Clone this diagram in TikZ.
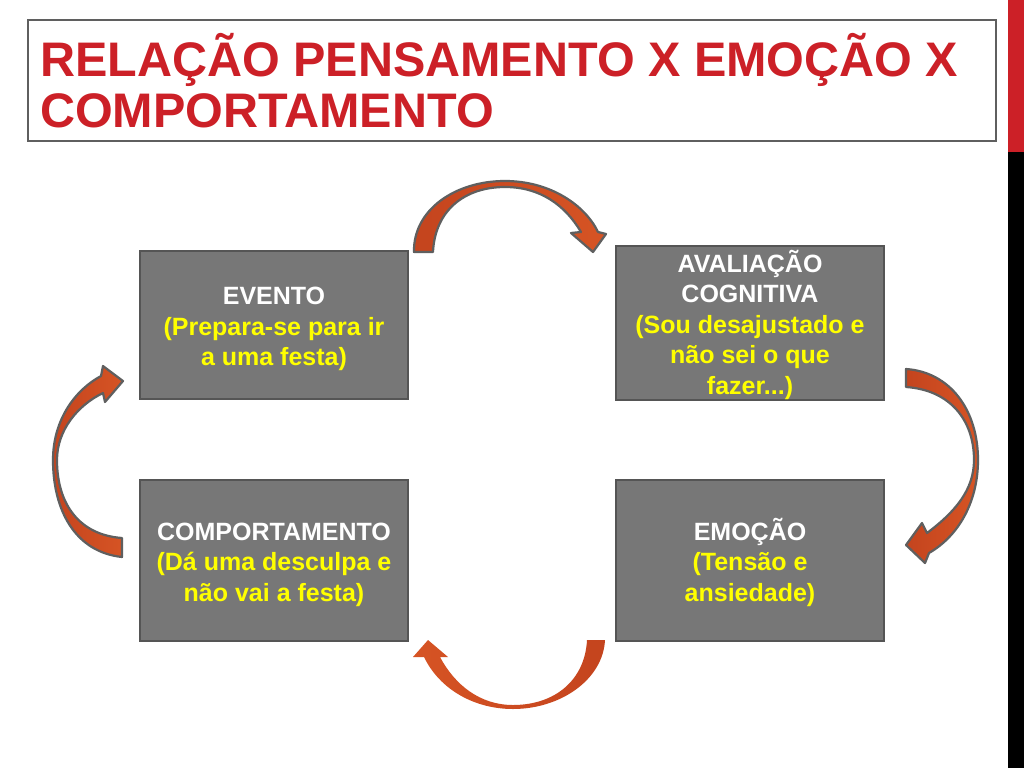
\documentclass[tikz,border=0pt]{standalone}
\usepackage{fontspec}
\setmainfont{Liberation Sans}
\usepackage{tikz}
\usetikzlibrary{calc}
\definecolor{TitleRed}{RGB}{204,32,39}
\definecolor{BoxGray}{RGB}{119,119,119}
\definecolor{BoxLine}{RGB}{85,85,85}
\definecolor{ArrowOrange}{RGB}{214,84,36}
\definecolor{ArrowDark}{RGB}{196,68,30}
\definecolor{ArrowLine}{RGB}{95,95,95}
\definecolor{TextYellow}{RGB}{255,255,0}
\tikzset{
  caixa/.style={rectangle,draw=BoxLine,fill=BoxGray,line width=2pt,
    minimum width=268pt,align=center,text=TextYellow,inner sep=0pt,
    font=\bfseries\fontsize{25}{30.5}\selectfont},
  seta/.style={left color=ArrowDark,right color=ArrowOrange,draw=ArrowLine,
    line width=2.2pt,line join=round},
  setasem/.style={left color=ArrowOrange,right color=ArrowDark},
  titulo/.style={anchor=base west,text=TitleRed,inner sep=0pt,
    font=\bfseries\fontsize{48.5}{51}\selectfont},
}
\newcommand{\cab}[1]{\textcolor{white}{\rule{0pt}{26pt}#1}}

\begin{document}
\begin{tikzpicture}[x=1pt,y=-1pt]
\useasboundingbox (0,0) rectangle (1024,768);
\fill[white] (0,0) rectangle (1024,768);
% faixa lateral
\fill[TitleRed] (1008,0) rectangle (1024,152);
\fill[black] (1008,152) rectangle (1024,768);
% titulo
\draw[ArrowLine,line width=1.2pt] (28,20) rectangle (996,141);
\node[titulo] (titulo1) at (40,76) {RELAÇÃO PENSAMENTO X EMOÇÃO X};
\node[titulo] (titulo2) at (40,127) {COMPORTAMENTO};
% caixas
\node[caixa,minimum height=148pt] (evento) at (274,325)
  {\cab{EVENTO}\\(Prepara-se para ir\\a uma festa)};
\node[caixa,minimum height=154pt] (avaliacao) at (750,323)
  {\cab{AVALIAÇÃO}\\\textcolor{white}{COGNITIVA}\\(Sou desajustado e\\não sei o que\\fazer...)};
\node[caixa,minimum height=161pt] (comportamento) at (274,560.5)
  {\cab{COMPORTAMENTO}\\(Dá uma desculpa e\\não vai a festa)};
\node[caixa,minimum height=161pt] (emocao) at (750,560.5)
  {\cab{EMOÇÃO}\\(Tensão e\\ansiedade)};
% setas curvas
\path[seta] (414,252) .. controls (413,210) and (455,181) .. (505,181)
  .. controls (550,181) and (585,205) .. (598,232) -- (606,234) -- (593,252)
  -- (571,233) -- (581,232) .. controls (565,205) and (540,187) .. (505,187)
  .. controls (465,187) and (435,210) .. (433,252) -- cycle;
\path[seta] (906,369) .. controls (950,372) and (978,410) .. (978,460)
  .. controls (978,500) and (960,535) .. (929,553) -- (925,563) -- (906,545)
  -- (922,523) -- (927,533) .. controls (955,512) and (974,490) .. (974,460)
  .. controls (974,420) and (950,390) .. (906,387) -- cycle;
\path[setasem] (605,640) .. controls (603,680) and (560,709) .. (513,709)
  .. controls (475,709) and (440,690) .. (424,657) -- (413,657) -- (428,640)
  -- (448,657) -- (440,657) .. controls (455,685) and (480,705) .. (513,705)
  .. controls (555,705) and (585,680) .. (587,640) -- cycle;
\path[seta] (122,557) .. controls (75,552) and (53,510) .. (53,460)
  .. controls (53,420) and (75,390) .. (101,376) -- (103,366) -- (123,381)
  -- (105,402) -- (103,393) .. controls (78,405) and (57,430) .. (57,460)
  .. controls (57,505) and (80,535) .. (122,538) -- cycle;
\end{tikzpicture}
\end{document}
